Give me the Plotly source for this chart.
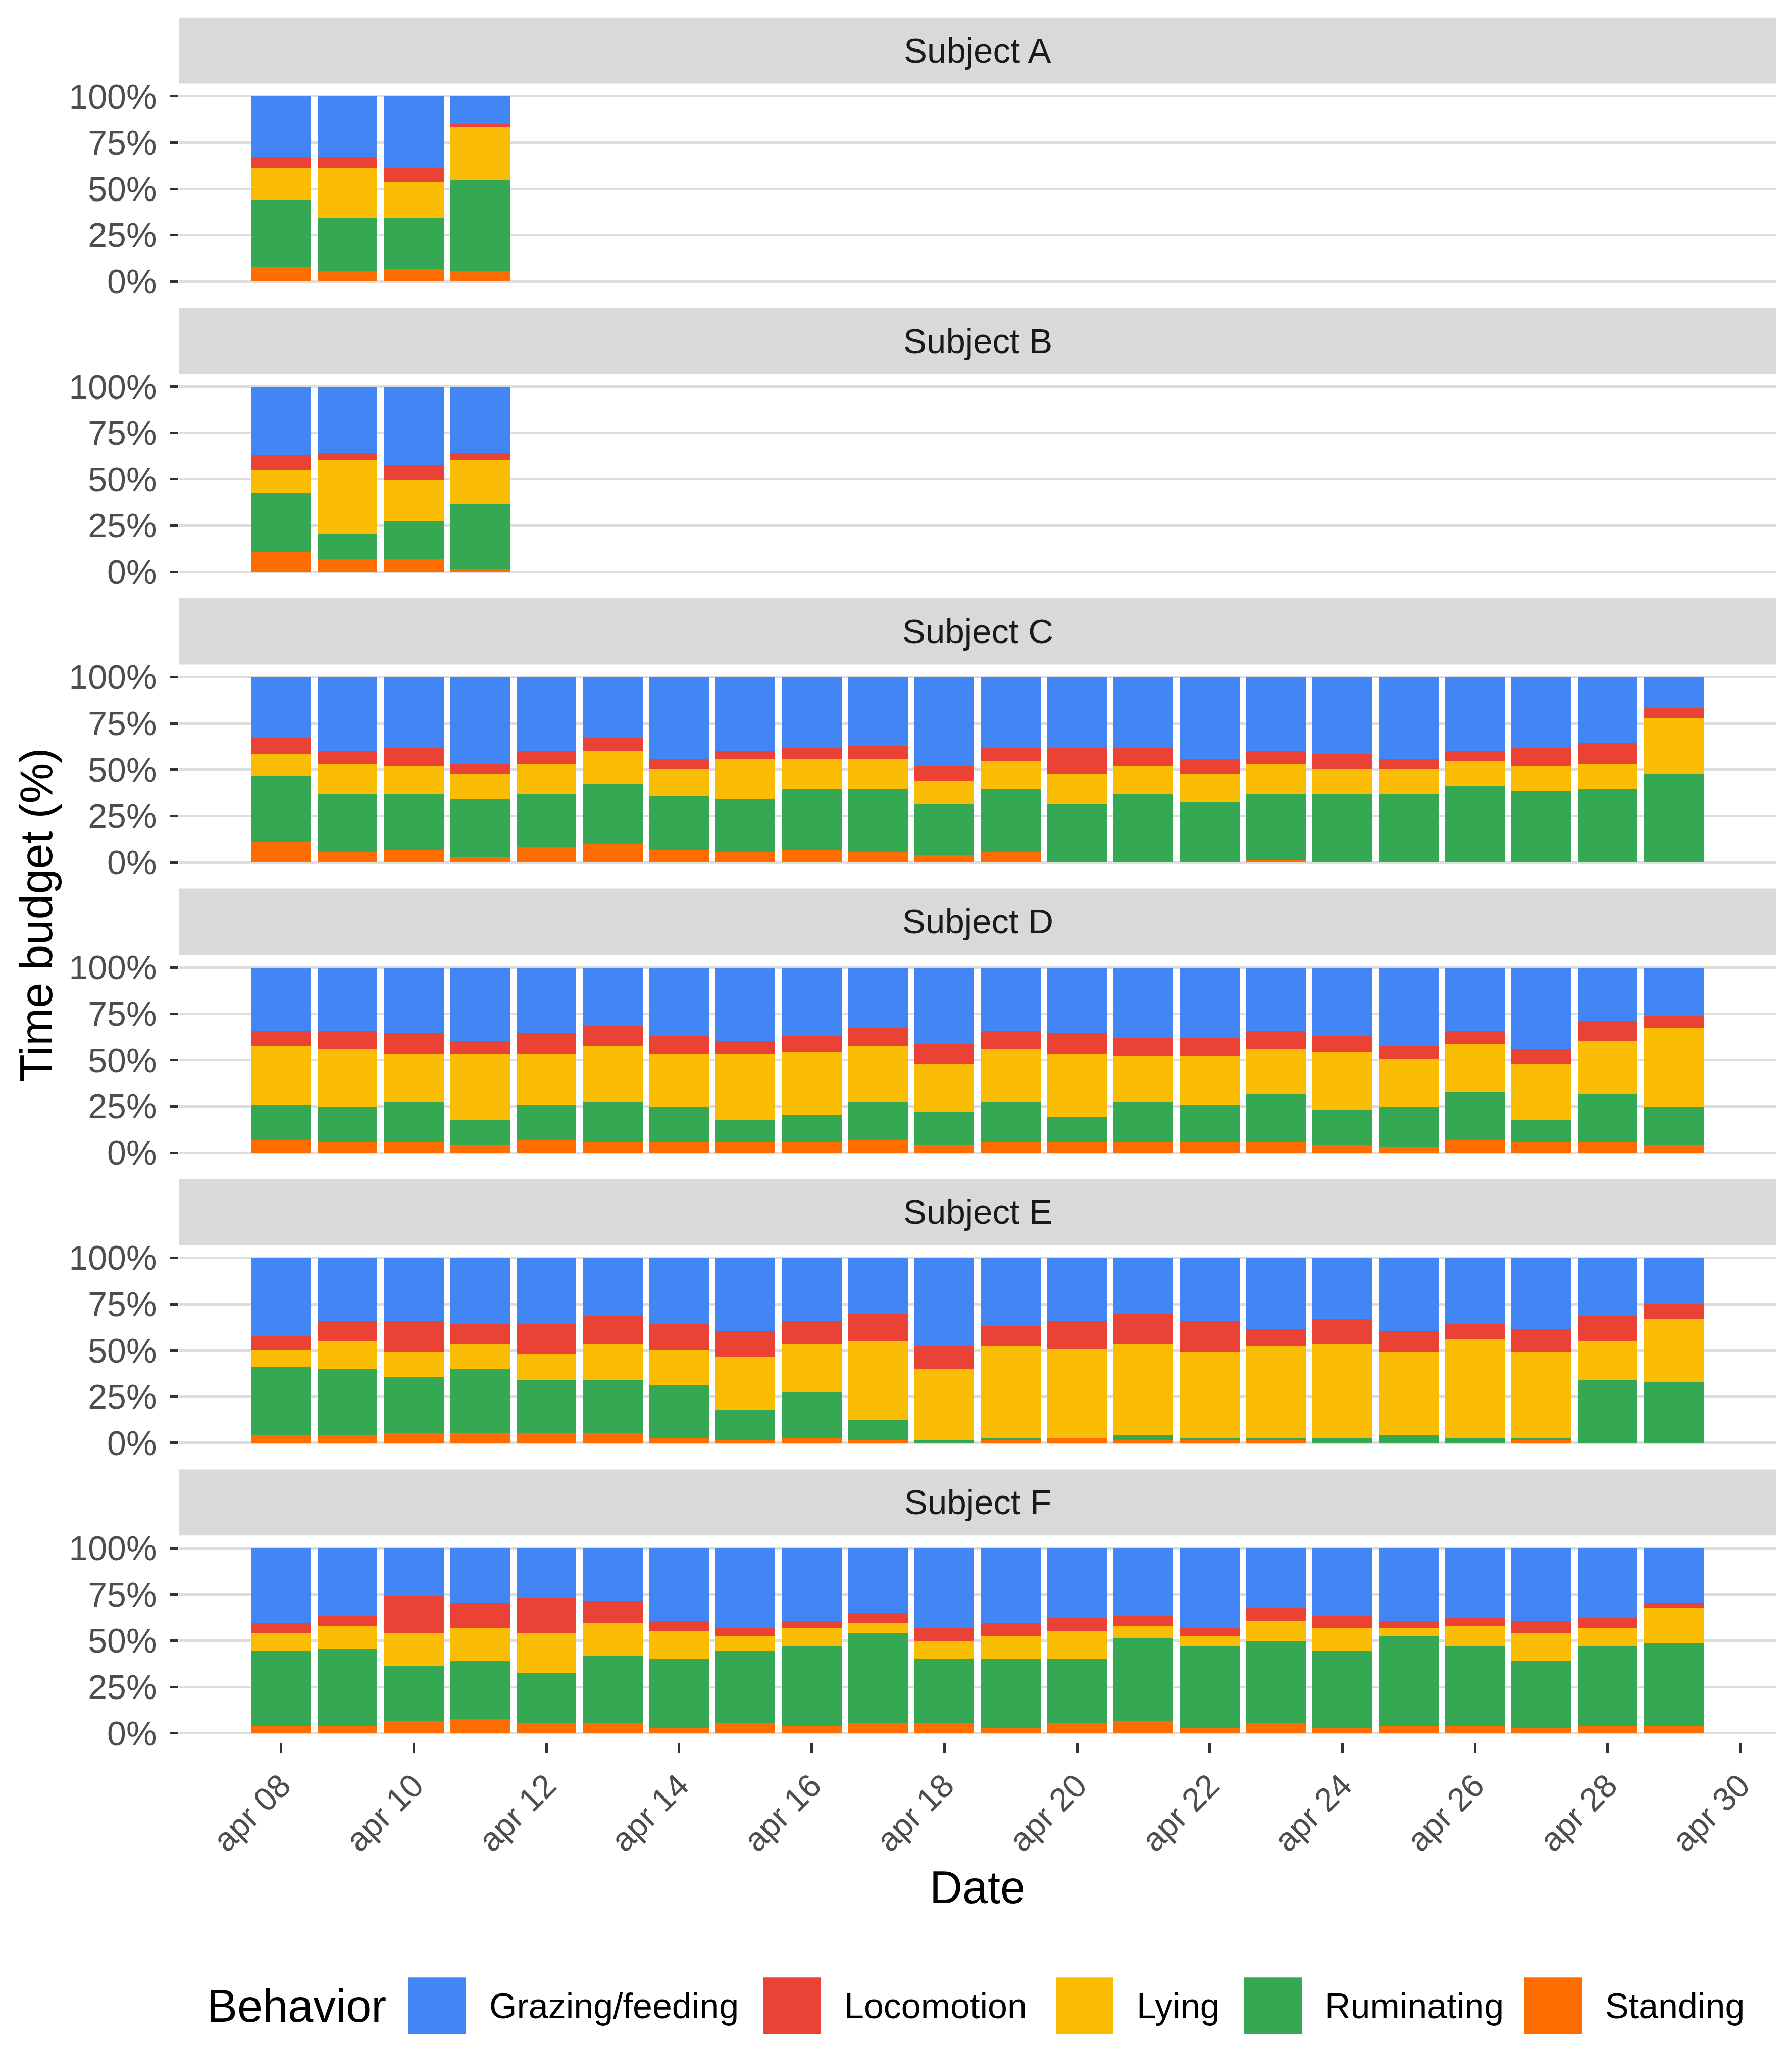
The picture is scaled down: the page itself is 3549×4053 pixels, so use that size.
import pandas as pd
import plotly.graph_objects as go
from plotly.subplots import make_subplots

# ---------------- data ----------------
subjects = ["Subject A", "Subject B", "Subject C", "Subject D", "Subject E", "Subject F"]
stack_order = ["Standing", "Ruminating", "Lying", "Locomotion", "Grazing/feeding"]  # bottom -> top
legend_order = ["Grazing/feeding", "Locomotion", "Lying", "Ruminating", "Standing"]
behavior_colors = {
    "Grazing/feeding": "#4285F4",
    "Locomotion": "#EA4335",
    "Lying": "#FBBC04",
    "Ruminating": "#34A853",
    "Standing": "#FF6D01",
}

dates_ab = list(pd.date_range("2021-04-08", periods=4, freq="D"))
dates_cf = list(pd.date_range("2021-04-08", periods=22, freq="D"))

tick_dates = ["2021-04-08", "2021-04-10", "2021-04-12", "2021-04-14", "2021-04-16", "2021-04-18",
              "2021-04-20", "2021-04-22", "2021-04-24", "2021-04-26", "2021-04-28", "2021-04-30"]
tick_labels = ["apr 08", "apr 10", "apr 12", "apr 14", "apr 16", "apr 18",
               "apr 20", "apr 22", "apr 24", "apr 26", "apr 28", "apr 30"]
y_tick_vals = [0, 25, 50, 75, 100]
y_tick_labels = ["0%", "25%", "50%", "75%", "100%"]

subject_a = {
    "Standing":        [8.1, 5.4, 6.8, 5.4],
    "Ruminating":      [35.8, 28.8, 27.4, 49.4],
    "Lying":           [17.7, 27.4, 19.3, 28.9],
    "Locomotion":      [5.6, 5.6, 8.1, 1.4],
    "Grazing/feeding": [32.8, 32.8, 38.4, 14.9],
}
subject_b = {
    "Standing":        [11.1, 6.9, 6.9, 1.4],
    "Ruminating":      [31.4, 13.7, 20.5, 35.6],
    "Lying":           [12.4, 39.8, 22.0, 23.4],
    "Locomotion":      [8.1, 4.0, 8.2, 4.0],
    "Grazing/feeding": [37.0, 35.6, 42.4, 35.6],
}
subject_c = {
    "Standing":        [10.9, 5.4, 6.8, 2.7, 8.2, 9.5, 6.8, 5.4, 6.8, 5.4, 4.1, 5.5, 0, 0, 0, 1.4, 0, 0, 0, 0, 0, 0],
    "Ruminating":      [35.6, 31.6, 30.2, 31.5, 28.8, 32.9, 28.7, 28.8, 32.9, 34.3, 27.4, 34.2, 31.5, 37.0, 32.9, 35.6, 37.0, 37.0, 41.0, 38.3, 39.7, 47.8],
    "Lying":           [12.3, 16.3, 15.0, 13.6, 16.3, 17.8, 15.0, 21.8, 16.3, 16.3, 12.3, 15.0, 16.3, 15.0, 14.9, 16.3, 13.5, 13.5, 13.7, 13.7, 13.6, 30.2],
    "Locomotion":      [8.2, 6.9, 9.5, 5.5, 6.9, 6.8, 5.5, 4.2, 5.5, 6.9, 8.2, 6.8, 13.7, 9.5, 8.2, 6.9, 8.3, 5.5, 5.5, 9.5, 11.0, 5.5],
    "Grazing/feeding": [33.0, 39.8, 38.5, 46.7, 39.8, 33.0, 44.0, 39.8, 38.5, 37.1, 48.0, 38.5, 38.5, 38.5, 44.0, 39.8, 41.2, 44.0, 39.8, 38.5, 35.7, 16.5],
}
subject_d = {
    "Standing":        [6.8, 5.4, 5.4, 4.0, 6.8, 5.4, 5.4, 5.4, 5.4, 6.8, 4.0, 5.4, 5.4, 5.4, 5.4, 5.4, 4.0, 2.7, 6.8, 5.4, 5.4, 4.0],
    "Ruminating":      [19.1, 19.2, 21.9, 13.7, 19.1, 21.9, 19.2, 12.3, 15.0, 20.5, 17.8, 21.9, 13.7, 21.9, 20.5, 26.0, 19.2, 21.9, 26.0, 12.3, 26.0, 20.6],
    "Lying":           [31.6, 31.5, 26.0, 35.6, 27.4, 30.2, 28.7, 35.6, 34.3, 30.2, 26.0, 28.8, 34.2, 24.7, 26.1, 24.7, 31.5, 26.0, 26.0, 30.1, 28.8, 42.5],
    "Locomotion":      [8.2, 9.6, 11.0, 6.9, 11.0, 11.0, 9.7, 6.9, 8.3, 9.6, 11.0, 9.6, 11.0, 9.6, 9.6, 9.6, 8.3, 6.9, 6.9, 8.3, 11.0, 6.9],
    "Grazing/feeding": [34.3, 34.3, 35.7, 39.8, 35.7, 31.5, 37.0, 39.8, 37.0, 32.9, 41.2, 34.3, 35.7, 38.4, 38.4, 34.3, 37.0, 42.5, 34.3, 43.9, 28.8, 26.0],
}
subject_e = {
    "Standing":        [4.0, 4.0, 5.5, 5.5, 5.5, 5.5, 2.7, 1.4, 2.7, 1.4, 0, 1.4, 2.7, 1.4, 1.4, 1.4, 0, 0, 0, 1.4, 0, 0],
    "Ruminating":      [37.1, 35.7, 30.1, 34.2, 28.7, 28.7, 28.8, 16.3, 24.7, 10.9, 1.4, 1.3, 0, 2.7, 1.3, 1.3, 2.7, 4.1, 2.7, 1.3, 34.2, 32.8],
    "Lying":           [9.5, 15.0, 13.7, 13.6, 13.7, 19.1, 19.1, 28.9, 25.9, 42.4, 38.3, 49.4, 48.0, 49.2, 46.6, 49.4, 50.6, 45.2, 53.5, 46.6, 20.5, 34.3],
    "Locomotion":      [6.9, 11.1, 16.5, 11.0, 16.4, 15.1, 13.7, 13.7, 12.5, 15.1, 12.4, 10.9, 15.1, 16.5, 16.5, 9.6, 13.8, 11.0, 8.1, 12.4, 13.7, 8.2],
    "Grazing/feeding": [42.5, 34.2, 34.2, 35.7, 35.7, 31.6, 35.7, 39.7, 34.2, 30.2, 47.9, 37.0, 34.2, 30.2, 34.2, 38.3, 32.9, 39.7, 35.7, 38.3, 31.6, 24.7],
}
subject_f = {
    "Standing":        [4.0, 4.0, 6.7, 8.0, 5.3, 5.3, 2.6, 5.3, 4.0, 5.3, 5.3, 2.6, 5.3, 6.7, 2.6, 5.3, 2.6, 4.0, 4.0, 2.6, 4.0, 4.0],
    "Ruminating":      [40.5, 41.8, 29.6, 31.1, 27.1, 36.5, 37.8, 39.2, 43.2, 48.7, 35.1, 37.8, 35.1, 44.6, 44.6, 44.6, 41.9, 48.6, 43.2, 36.5, 43.2, 44.6],
    "Lying":           [9.5, 12.2, 17.7, 17.6, 21.6, 17.6, 14.9, 8.1, 9.5, 5.4, 9.5, 12.2, 14.9, 6.7, 5.4, 10.9, 12.2, 4.1, 10.8, 14.9, 9.5, 18.9],
    "Locomotion":      [5.4, 5.5, 20.3, 13.6, 19.0, 12.2, 5.5, 4.1, 4.1, 5.4, 6.8, 6.8, 6.8, 5.5, 4.1, 6.7, 6.8, 4.1, 4.1, 6.8, 5.4, 2.8],
    "Grazing/feeding": [40.6, 36.5, 25.7, 29.7, 27.0, 28.4, 39.2, 43.3, 39.2, 35.2, 43.3, 40.6, 37.9, 36.5, 43.3, 32.5, 36.5, 39.2, 37.9, 39.2, 37.9, 29.7],
}

subject_data = [subject_a, subject_b, subject_c, subject_d, subject_e, subject_f]
subject_dates = [dates_ab, dates_ab, dates_cf, dates_cf, dates_cf, dates_cf]

# ---------------- layout helpers ----------------
W, H = 3549, 4053
FONT = "Liberation Sans, Arial, sans-serif"
PL, PR = 354, 3518          # panel left/right (px)
PANEL_TOP0, PANEL_BOT0, STEP = 154, 561, 580.5
STRIP_TOP0, STRIP_BOT0 = 15, 147
DATE_Y = 3753
LEG_Y = 3990
KEY = 114

def fx(px):
    return px / W

def fy(py):
    return 1 - py / H

DAY_MS = 86400000
x_range = ["2021-04-06 10:55:12", "2021-04-30 13:04:48"]

fig = make_subplots(rows=6, cols=1, shared_xaxes=False)

for i, (name, data, dates) in enumerate(zip(subjects, subject_data, subject_dates)):
    for beh in stack_order:
        fig.add_trace(
            go.Bar(
                x=dates,
                y=data[beh],
                name=beh,
                marker=dict(color=behavior_colors[beh], line=dict(width=0)),
                width=[0.9 * DAY_MS] * len(dates),
                showlegend=False,
                hovertemplate="%{x|%b %d}<br>" + beh + ": %{y:.1f}%<extra>" + name + "</extra>",
            ),
            row=i + 1, col=1,
        )

shapes = []
annotations = []
for i, name in enumerate(subjects):
    top = PANEL_TOP0 + i * STEP
    bot = PANEL_BOT0 + i * STEP
    s_top = STRIP_TOP0 + i * STEP
    s_bot = STRIP_BOT0 + i * STEP
    ax_suffix = "" if i == 0 else str(i + 1)
    is_bottom = i == len(subjects) - 1
    fig.layout["yaxis" + ax_suffix].update(
        domain=[fy(bot), fy(top)],
        range=[-5, 105],
        tickvals=y_tick_vals,
        ticktext=y_tick_labels,
        ticks="outside", ticklen=17, tickwidth=5, tickcolor="#333333",
        ticklabelstandoff=12,
        tickfont=dict(family=FONT, size=68, color="#4D4D4D"),
        showgrid=True, gridcolor="#DEDEDE", gridwidth=5,
        zeroline=False, showline=False,
        fixedrange=True,
    )
    fig.layout["xaxis" + ax_suffix].update(
        domain=[fx(PL), fx(PR)],
        type="date",
        range=x_range,
        showgrid=False, zeroline=False, showline=False,
        tickvals=tick_dates,
        ticktext=tick_labels,
        showticklabels=is_bottom,
        ticks="outside" if is_bottom else "",
        ticklen=20, tickwidth=5, tickcolor="#333333",
        tickangle=-45,
        tickfont=dict(family=FONT, size=65, color="#4D4D4D"),
    )
    # facet strip
    shapes.append(dict(type="rect", xref="paper", yref="paper",
                       x0=fx(PL), x1=fx(PR), y0=fy(s_bot), y1=fy(s_top),
                       fillcolor="#D9D9D9", line=dict(width=0), layer="below"))
    annotations.append(dict(xref="paper", yref="paper", x=fx((PL + PR) / 2), y=fy((s_top + s_bot) / 2),
                            text=name, showarrow=False, xanchor="center", yanchor="middle",
                            font=dict(family=FONT, size=69, color="#1A1A1A")))

# axis titles
annotations.append(dict(xref="paper", yref="paper", x=fx(72),
                        y=fy((PANEL_TOP0 + PANEL_BOT0 + 5 * STEP) / 2),
                        text="Time budget (%)", textangle=-90, showarrow=False,
                        xanchor="center", yanchor="middle",
                        font=dict(family=FONT, size=90, color="#000000")))
annotations.append(dict(xref="paper", yref="paper", x=fx(1936), y=fy(DATE_Y),
                        text="Date", showarrow=False, xanchor="center", yanchor="middle",
                        font=dict(family=FONT, size=90, color="#000000")))

# manual legend (large keys like ggplot)
annotations.append(dict(xref="paper", yref="paper", x=fx(408), y=fy(LEG_Y),
                        text="Behavior", showarrow=False, xanchor="left", yanchor="middle",
                        font=dict(family=FONT, size=90, color="#000000")))
key_x = [809, 1512, 2091, 2464, 3019]
for kx, beh in zip(key_x, legend_order):
    shapes.append(dict(type="rect", xref="paper", yref="paper",
                       x0=fx(kx), x1=fx(kx + KEY), y0=fy(LEG_Y + KEY / 2), y1=fy(LEG_Y - KEY / 2),
                       fillcolor=behavior_colors[beh], line=dict(width=0)))
    annotations.append(dict(xref="paper", yref="paper", x=fx(kx + KEY + 44), y=fy(LEG_Y),
                            text=beh, showarrow=False, xanchor="left", yanchor="middle",
                            font=dict(family=FONT, size=70, color="#000000")))

fig.update_layout(
    width=W, height=H,
    margin=dict(l=0, r=0, t=0, b=0),
    barmode="stack",
    barnorm="percent",
    bargap=0.1,
    paper_bgcolor="white",
    plot_bgcolor="white",
    font=dict(family=FONT),
    showlegend=False,
    shapes=shapes,
    annotations=annotations,
)

fig.write_html("out.html")
